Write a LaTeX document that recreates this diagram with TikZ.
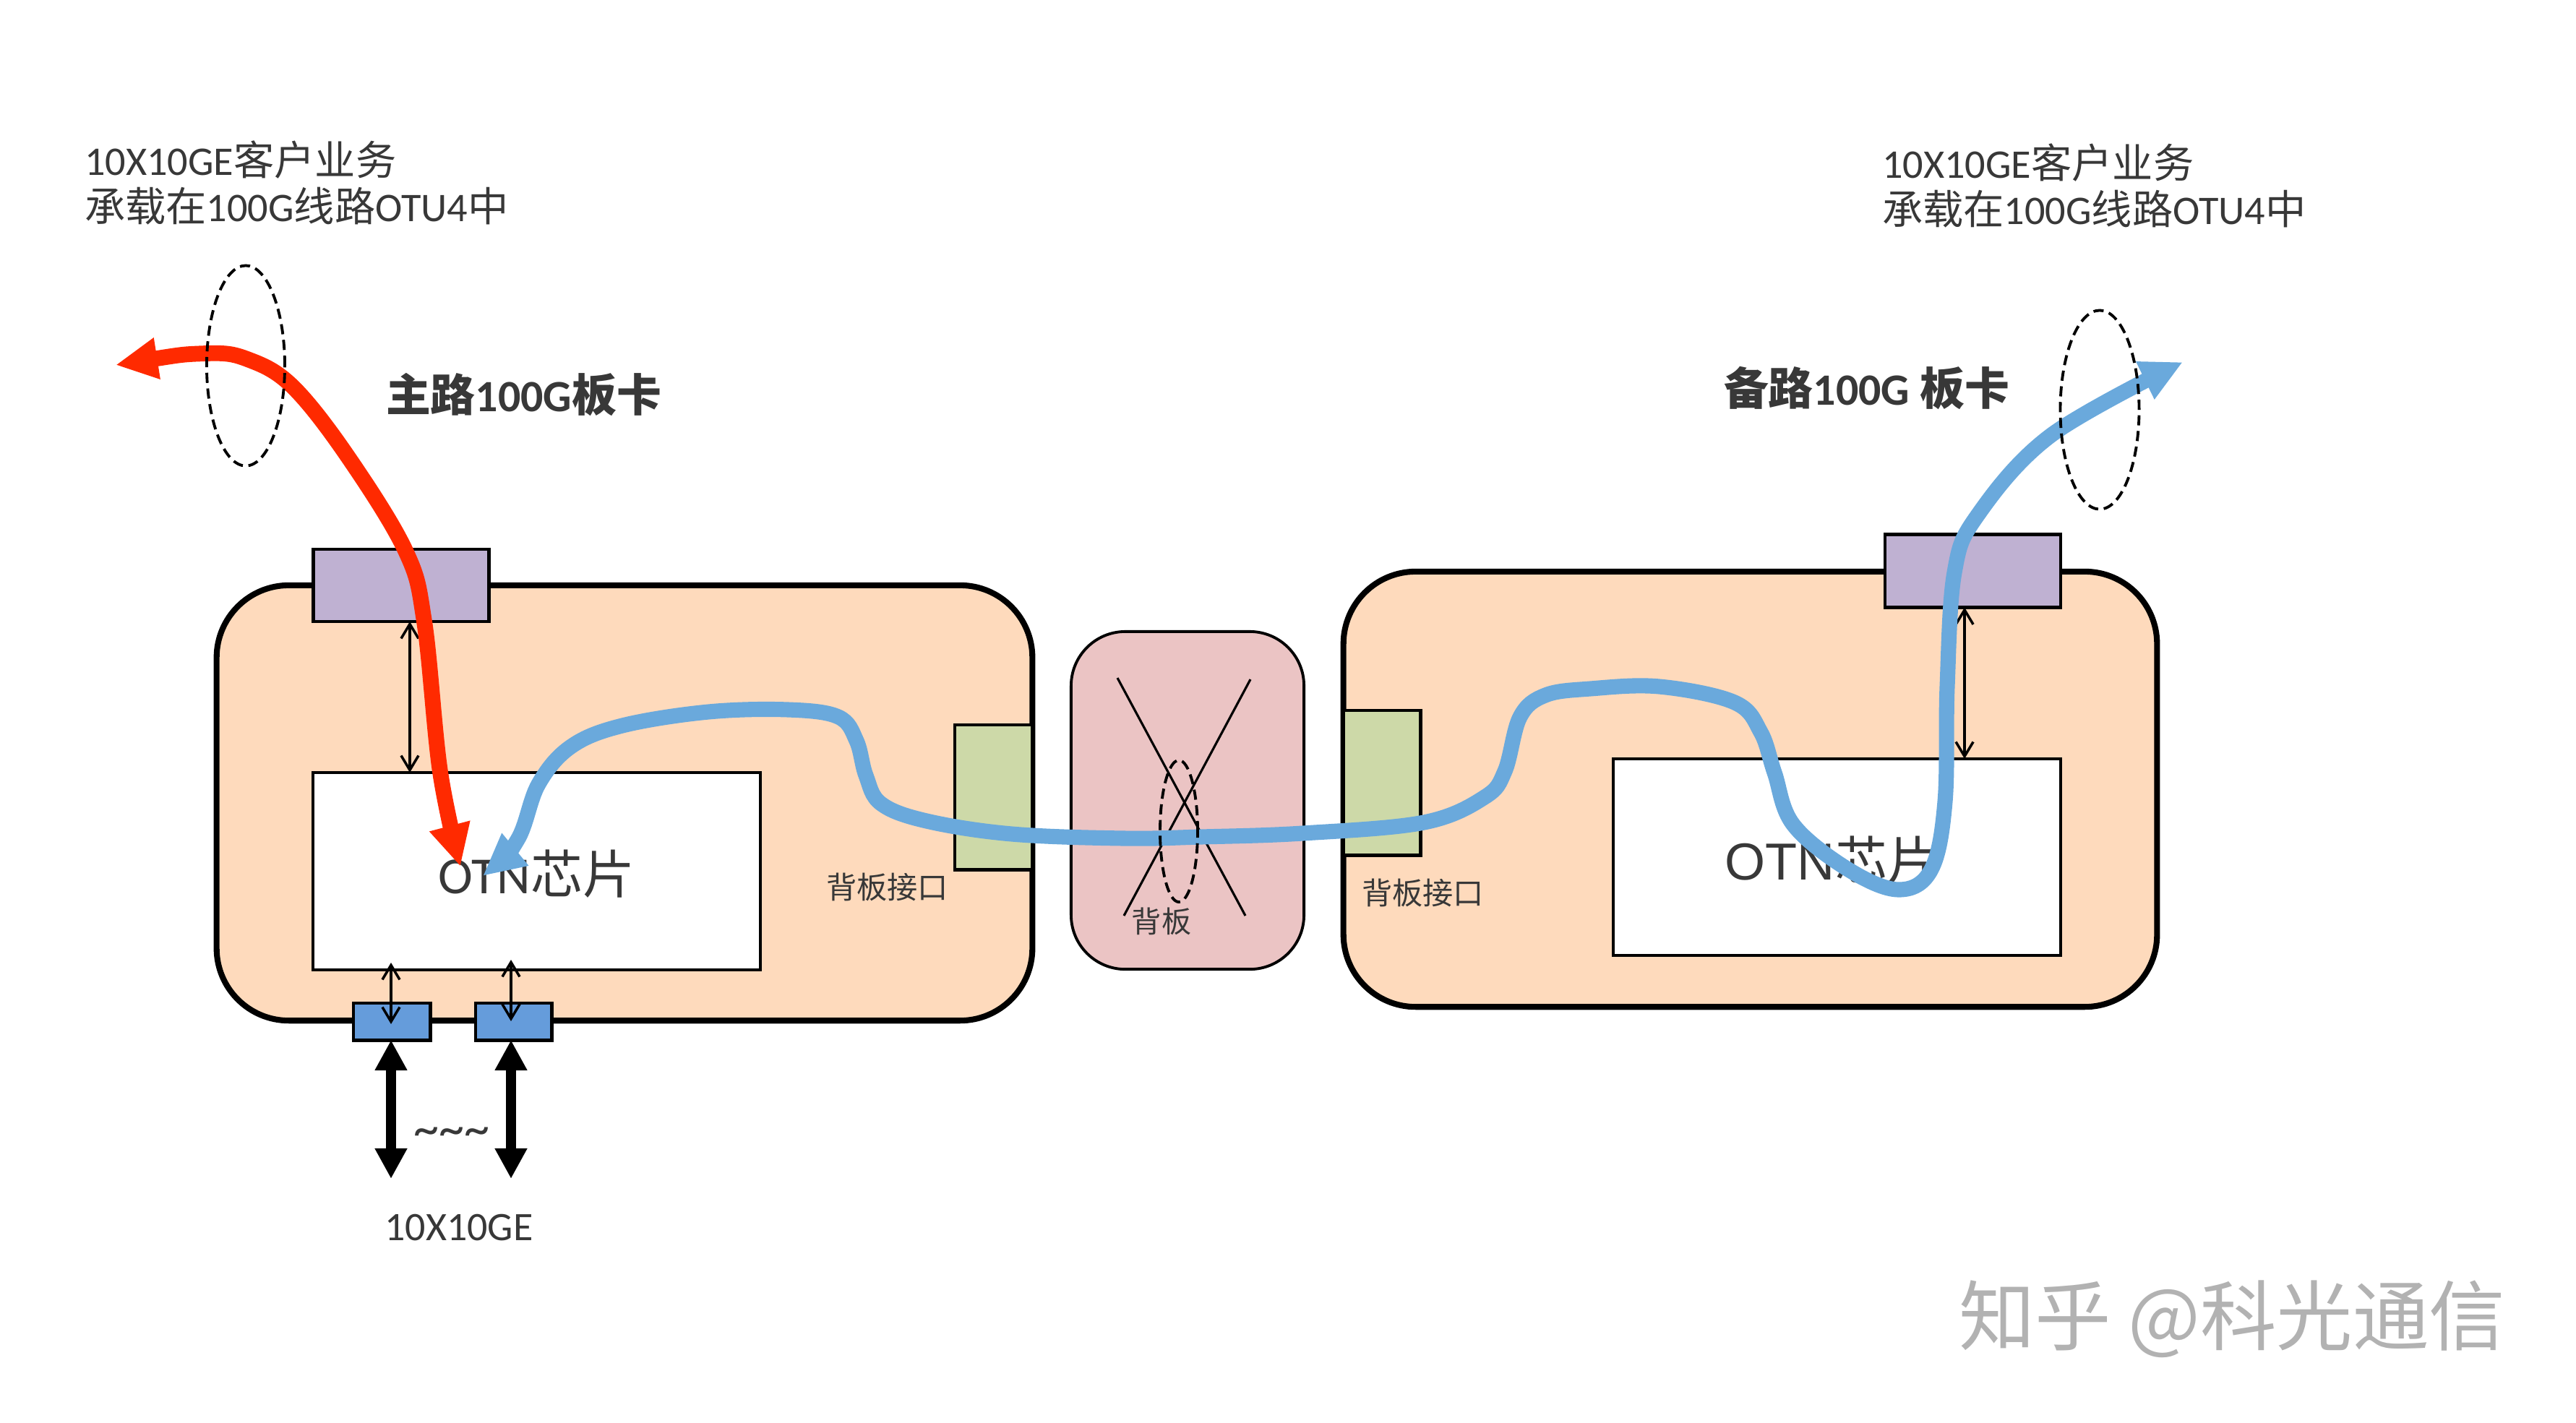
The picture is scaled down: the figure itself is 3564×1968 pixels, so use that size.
\documentclass[tikz,border=0pt]{standalone}
\usepackage{fontspec}
\usetikzlibrary{arrows.meta,shapes.geometric,calc}
\setmainfont{Carlito}
\newfontfamily\cjk{Noto Sans CJK SC}
\newfontfamily\widelat{Liberation Sans}
\newcommand\zh[1]{{\cjk #1}}
\newcommand\fsz[1]{\fontsize{#1pt}{#1pt}\selectfont}
\definecolor{boardc}{HTML}{FEDABC}
\definecolor{purplec}{HTML}{BFB1D2}
\definecolor{greenc}{HTML}{CDD9A8}
\definecolor{smallblue}{HTML}{659CDB}
\definecolor{linkblue}{HTML}{6AA9DC}
\definecolor{linkred}{HTML}{FF2A00}
\definecolor{bpc}{HTML}{EBC4C4}
\definecolor{txt}{HTML}{383838}
\tikzset{
  px/.style={x=0.01cm,y=-0.01cm},
  boxbase/.style={draw=black,inner sep=0pt,outer sep=0pt,rectangle},
  board/.style={boxbase,fill=boardc,line width=2.3pt,rounded corners=1cm},
  backplane/.style={boxbase,fill=bpc,line width=1.1pt,rounded corners=0.75cm},
  chip/.style={boxbase,fill=white,line width=1.2pt},
  linecard/.style={boxbase,fill=purplec,line width=1.2pt},
  bpport/.style={boxbase,fill=greenc,line width=1.4pt},
  client/.style={boxbase,fill=smallblue,line width=1.4pt},
  thinarrow/.style={line width=1pt,black,{Straight Barb[length=0.2cm,width=0.24cm]}-{Straight Barb[length=0.2cm,width=0.24cm]}},
  thickarrow/.style={line width=3.8pt,black,{Triangle[length=0.42cm,width=0.42cm]}-{Triangle[length=0.42cm,width=0.42cm]}},
  xline/.style={line width=0.9pt,black},
  dashring/.style={draw=black,ellipse,dash pattern=on 4pt off 2.2pt,line width=1.1pt,inner sep=0pt,outer sep=0pt},
  redlink/.style={line width=6.2pt,linkred,{Triangle[length=0.58cm,width=0.54cm]}-{Triangle[length=0.58cm,width=0.54cm]}},
  bluelink/.style={line width=6pt,linkblue,{Triangle[length=0.58cm,width=0.54cm]}-{Triangle[length=0.58cm,width=0.54cm]}},
  lbl/.style={inner sep=0pt,outer sep=0pt,text=txt},
  twoline/.style={lbl,anchor=west,align=left,font=\fontsize{16pt}{18.3pt}\selectfont},
}
\begin{document}
\begin{tikzpicture}[px]
\useasboundingbox (0,0) rectangle (3564,1968);
% boards
\node[board,minimum width=11.28cm,minimum height=6.02cm] (bl) at (864,1111) {};
\node[board,minimum width=11.25cm,minimum height=6.02cm] (br) at (2421.5,1092) {};
\node[backplane,minimum width=3.22cm,minimum height=4.67cm] (bp) at (1643,1107.5) {};
% parts
\node[linecard,minimum width=2.43cm,minimum height=1cm] (pl) at (555,810) {};
\node[linecard,minimum width=2.43cm,minimum height=1.01cm] (pr) at (2729.5,790) {};
\node[chip,minimum width=6.19cm,minimum height=2.73cm] (cl) at (742.5,1205.5) {};
\node[chip,minimum width=6.19cm,minimum height=2.72cm] (cr) at (2541.5,1186) {};
\node[client,minimum width=1.06cm,minimum height=0.51cm] (c1) at (542,1413.5) {};
\node[client,minimum width=1.05cm,minimum height=0.51cm] (c2) at (710.5,1413.5) {};
\node[bpport,minimum width=1.07cm,minimum height=2cm] (gl) at (1374.5,1103) {};
\node[bpport,minimum width=1.06cm,minimum height=2cm] (gr) at (1912,1083) {};
% chip texts
\node[lbl,anchor=center] (otnl) at (742.5,1209) {\fsz{20.5}OTN\zh{芯片}};
\node[lbl,anchor=center] (otnr) at (2535,1190) {\fsz{20.5}{\widelat OTN}\zh{芯片}};
% thin arrows
\coordinate (a1) at (567,0);
\coordinate (a2) at (2718,0);
\coordinate (t1a) at (541,1332);
\coordinate (t1b) at (541,1417);
\coordinate (t2a) at (707,1328);
\coordinate (t2b) at (707,1413);
\draw[thinarrow] (a1 |- pl.south) -- (a1 |- cl.north);
\draw[thinarrow] (a2 |- pr.south) -- (a2 |- cr.north);
\draw[thinarrow] (t1a) -- (t1b);
\draw[thinarrow] (t2a) -- (t2b);
% thick arrows
\coordinate (e1) at (541,1631);
\coordinate (e2) at (707,1631);
\draw[thickarrow] (e1 |- c1.south) -- (e1);
\draw[thickarrow] (e2 |- c2.south) -- (e2);
% X in backplane
\coordinate (x1) at (1546,938);
\coordinate (x2) at (1723,1267);
\coordinate (x3) at (1730,940);
\coordinate (x4) at (1555,1267);
\draw[xline] (x1) -- (x2);
\draw[xline] (x3) -- (x4);
% links
\coordinate (redtip) at (160,505);
\coordinate (redend) at (637,1199);
\coordinate (bluestart) at (668,1212);
\coordinate (blueend) at (3020,501);
\draw[redlink] plot[smooth,tension=0.6] coordinates {(redtip) (285,489) (345,498) (405,535) (480,630) (561,762) (587,860) (609,1068) (redend)};
\draw[bluelink] plot[smooth,tension=0.6] coordinates {(bluestart) (716,1162) (745,1085) (790,1033) (861,1004) (980,985) (1091,982) (1160,992) (1185,1025) (1198,1073) (1219,1112) (1282,1136) (1400,1154) (1556,1160) (1661,1158) (1802,1153) (1970,1138) (2054,1103) (2082,1067) (2103,992) (2138,962) (2200,953) (2296,950) (2400,972) (2436,1013) (2455,1069) (2481,1141) (2557,1203) (2627,1231) (2672,1203) (2691,1109) (2694,950) (2704,792) (2736,713) (2838,602) (blueend)};
% rings
\node[dashring,minimum width=1.08cm,minimum height=2.77cm] (rl) at (340,506) {};
\node[dashring,minimum width=1.09cm,minimum height=2.75cm] (rr) at (2905,567) {};
\node[dashring,minimum width=0.52cm,minimum height=1.96cm] (rb) at (1631,1150) {};
% labels
\node[twoline] (tl) at (117,253) {10X10GE\zh{客户业务}\\\zh{承载在}100G\zh{线路}OTU4\zh{中}};
\node[twoline] (tr) at (2604,257) {10X10GE\zh{客户业务}\\\zh{承载在}100G\zh{线路}OTU4\zh{中}};
\node[lbl,anchor=west] (ml) at (534,546) {\fsz{17.6}\bfseries\zh{\bfseries 主路}100G\zh{\bfseries 板卡}};
\node[lbl,anchor=west] (mr) at (2385,537) {\fsz{17.6}\bfseries\zh{\bfseries 备路}100G \zh{\bfseries 板卡}};
\node[lbl,anchor=west] (il) at (1143,1227) {\fsz{12}\zh{背板接口}};
\node[lbl,anchor=west] (ir) at (1884,1235) {\fsz{12}\zh{背板接口}};
\node[lbl] (bt) at (1607,1275) {\fsz{11.7}\zh{背板}};
\node[lbl] (ti) at (625,1573) {\fsz{20}\textasciitilde\textasciitilde\textasciitilde};
\node[lbl] (ge) at (635,1699) {\fsz{15.9}10X10GE};
% watermark
\node[inner sep=0pt,outer sep=0pt,anchor=west,text=black!30] (wm) at (2710,1825) {\fsz{30}\cjk 知乎 @科光通信};
\end{tikzpicture}
\end{document}
